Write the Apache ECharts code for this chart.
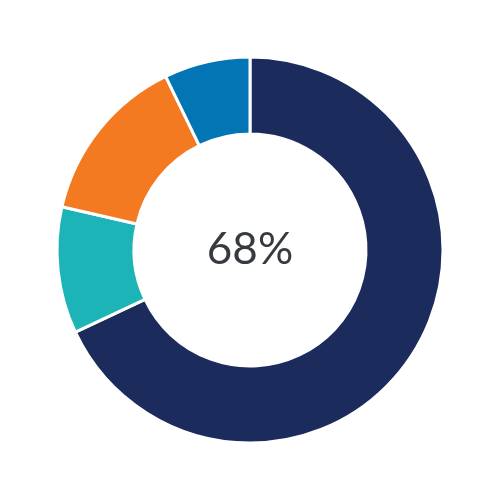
<!DOCTYPE html>
<html>
<head>
<meta charset="utf-8">
<script src="https://cdn.jsdelivr.net/npm/echarts@6/dist/echarts.min.js"></script>
<style>
  html, body { margin: 0; padding: 0; background: #fff; }
  #chart { width: 500px; height: 500px; }
</style>
</head>
<body>
<div id="chart"></div>
<script>
// slices, clockwise from 12 o'clock
const names = ['Navy', 'Teal', 'Orange', 'Blue'];
const values = [68, 10.6, 14.2, 7.2];
const colors = ['#1b2b5b', '#1cb4b6', '#f37a20', '#0275b4'];
const centerLabel = '68%';

const chart = echarts.init(document.getElementById('chart'));

chart.setOption({
  animation: false,
  graphic: [{
    type: 'text',
    left: 'center',
    top: 'middle',
    style: {
      text: centerLabel,
      font: '400 44px Lato',
      fill: '#363b42'
    }
  }],
  series: [{
    type: 'pie',
    center: ['50%', '50%'],
    radius: ['46.4%', '77.2%'],
    startAngle: 90,
    clockwise: true,
    label: { show: false },
    labelLine: { show: false },
    emphasis: { disabled: true },
    itemStyle: { borderColor: '#fff', borderWidth: 3 },
    data: names.map((n, i) => ({
      name: n,
      value: values[i],
      itemStyle: { color: colors[i] }
    }))
  }]
});
</script>
</body>
</html>
